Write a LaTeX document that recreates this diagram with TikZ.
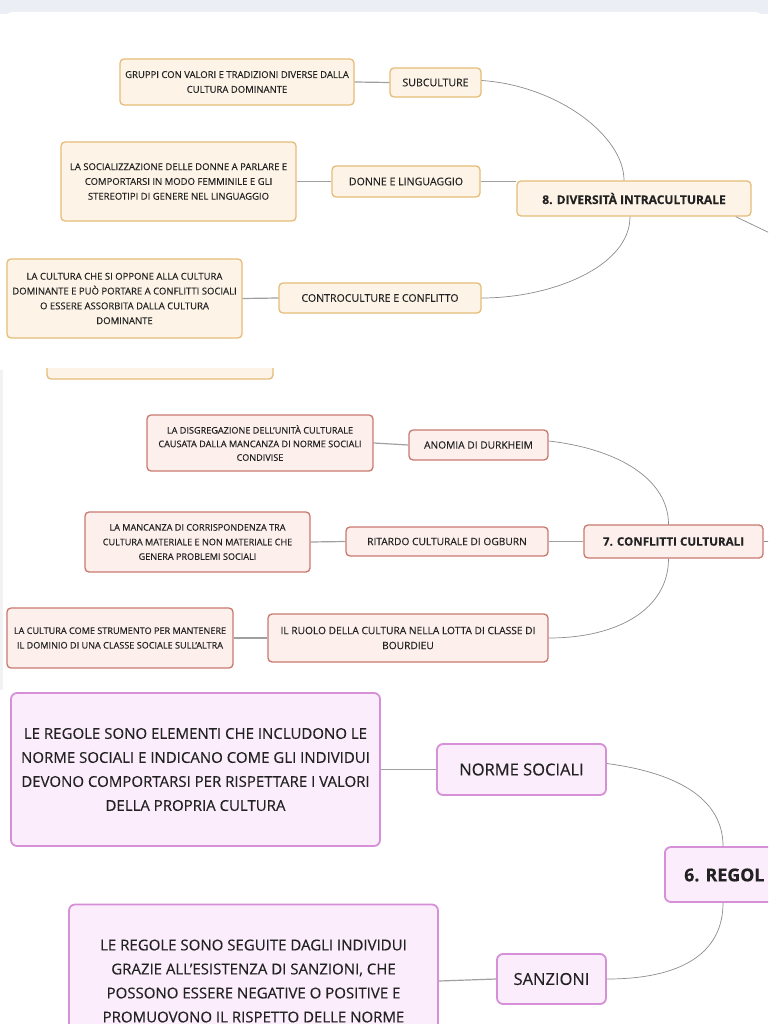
\documentclass[tikz,border=0pt]{standalone}
\usepackage{fontspec}
\setmainfont{Open Sans}[FakeBold=0.25]
\definecolor{tanF}{HTML}{FDF4E7}
\definecolor{tanD}{HTML}{E6BC78}
\definecolor{redF}{HTML}{FCEFEC}
\definecolor{redD}{HTML}{C97A6F}
\definecolor{purF}{HTML}{FBEDFB}
\definecolor{purD}{HTML}{D690D8}
\definecolor{txt}{HTML}{222222}
\definecolor{lineC}{HTML}{A0A0A0}
\definecolor{curveC}{HTML}{8C8C8C}
\definecolor{bandC}{HTML}{ECEEF5}
\tikzset{
  box/.style={rounded corners=4pt, align=center, inner sep=0pt, text=txt, line width=1.3pt},
  tanbox/.style={box, draw=tanD, fill=tanF},
  redbox/.style={box, draw=redD, fill=redF},
  purbox/.style={box, draw=purD, fill=purF, rounded corners=6pt, line width=1.8pt},
  dtan/.style={font=\fontsize{9.5}{14.8}\selectfont},
  dred/.style={font=\fontsize{9.1}{14.6}\selectfont},
  dredb/.style={font=\fontsize{9.1}{13.6}\selectfont},
  subtan/.style={font=\fontsize{10.6}{15}\selectfont},
  subred/.style={font=\fontsize{10.2}{15}\selectfont},
  maintan/.style={font=\bfseries\fontsize{12}{14}\selectfont},
  mainred/.style={font=\bfseries\fontsize{11.6}{14}\selectfont},
  dbig/.style={font=\fontsize{15}{24}\selectfont},
  subbig/.style={font=\fontsize{16.5}{18}\selectfont},
  mainbig/.style={font=\bfseries\fontsize{17.8}{20}\selectfont},
  link/.style={draw=lineC, line width=1.2pt},
  curve/.style={draw=curveC, line width=0.7pt},
}
\begin{document}
\begin{tikzpicture}[x=1pt,y=-1pt]
\useasboundingbox (0,0) rectangle (768,1024);
\clip (0,0) rectangle (768,1024);
% background
\fill[white] (0,0) rectangle (768,1024);
\fill[bandC] (0,0) rectangle (768,14);
\fill[white, rounded corners=14pt] (0,12) rectangle (768,420);
\fill[gray!10] (0,370) rectangle (3,690);
% cut-off box from the next screenshot
\begin{scope}
  \clip (0,368) rectangle (768,400);
  \draw[tanbox] (47,330) rectangle (273,379);
\end{scope}

% ---------- Section 8 ----------
\node[tanbox, dtan, minimum width=234pt, minimum height=46pt] (b1) at (237,82)
  {GRUPPI CON VALORI E TRADIZIONI DIVERSE DALLA\\CULTURA DOMINANTE};
\node[tanbox, subtan, minimum width=91pt, minimum height=29pt] (subc) at (435.5,82.5) {SUBCULTURE};
\node[tanbox, dtan, minimum width=235pt, minimum height=79pt] (b2) at (178.5,181.5)
  {LA SOCIALIZZAZIONE DELLE DONNE A PARLARE E\\COMPORTARSI IN MODO FEMMINILE E GLI\\STEREOTIPI DI GENERE NEL LINGUAGGIO};
\node[tanbox, subtan, minimum width=148pt, minimum height=31pt] (donne) at (406,181.5) {DONNE E LINGUAGGIO};
\node[tanbox, maintan, minimum width=234pt, minimum height=35pt] (m8) at (634,198.5) {8. DIVERSITÀ INTRACULTURALE};
\node[tanbox, dtan, minimum width=235pt, minimum height=79pt] (b3) at (124.5,298.5)
  {LA CULTURA CHE SI OPPONE ALLA CULTURA\\DOMINANTE E PUÒ PORTARE A CONFLITTI SOCIALI\\O ESSERE ASSORBITA DALLA CULTURA\\DOMINANTE};
\node[tanbox, subtan, minimum width=202pt, minimum height=30pt] (contro) at (380,298) {CONTROCULTURE E CONFLITTO};
\coordinate (off8) at (776,236);

\draw[link] (b1.east) -- (subc.west);
\draw[link] (b2.east) -- (donne.west);
\draw[link] (donne.east) -- (donne.east -| m8.west);
\draw[link] (b3.east) -- (contro.west);
\draw[curve] ([yshift=2pt]subc.east) .. controls +(75,5) and +(0,-45) .. ([xshift=-10pt]m8.north);
\draw[curve] ([xshift=-4pt]m8.south) .. controls +(0,50) and +(70,0) .. (contro.east);
\draw[curve] ([xshift=-16pt]m8.south east) -- (off8);

% ---------- Section 7 ----------
\node[redbox, dredb, minimum width=226pt, minimum height=56pt] (b4) at (260,443)
  {LA DISGREGAZIONE DELL'UNITÀ CULTURALE\\CAUSATA DALLA MANCANZA DI NORME SOCIALI\\CONDIVISE};
\node[redbox, subred, minimum width=139pt, minimum height=30pt] (anomia) at (478.5,445) {ANOMIA DI DURKHEIM};
\node[redbox, dred, minimum width=225pt, minimum height=60pt] (b5) at (197.5,542)
  {LA MANCANZA DI CORRISPONDENZA TRA\\CULTURA MATERIALE E NON MATERIALE CHE\\GENERA PROBLEMI SOCIALI};
\node[redbox, subred, minimum width=202pt, minimum height=29pt] (ritardo) at (447,541.5) {RITARDO CULTURALE DI OGBURN};
\node[redbox, mainred, minimum width=179pt, minimum height=33pt] (m7) at (673.5,541.5) {7. CONFLITTI CULTURALI};
\node[redbox, dred, minimum width=226pt, minimum height=60pt] (b6) at (120,638)
  {LA CULTURA COME STRUMENTO PER MANTENERE\\IL DOMINIO DI UNA CLASSE SOCIALE SULL'ALTRA};
\node[redbox, subred, minimum width=280pt, minimum height=48pt] (bourdieu) at (408,638)
  {IL RUOLO DELLA CULTURA NELLA LOTTA DI CLASSE DI\\BOURDIEU};
\coordinate (off7) at (772,541.5);

\draw[link] (b4.east) -- (anomia.west);
\draw[link] (b5.east) -- (ritardo.west);
\draw[link] (ritardo.east) -- (m7.west);
\draw[link] (b6.east) -- (bourdieu.west);
\draw[curve] (m7.east) -- (off7);
\draw[curve] ([yshift=4pt]anomia.east) .. controls +(70,8) and +(0,-45) .. ([xshift=-5pt]m7.north);
\draw[curve] ([xshift=-5pt]m7.south) .. controls +(0,50) and +(70,0) .. (bourdieu.east);

% ---------- Section 6 ----------
\node[purbox, dbig, minimum width=369pt, minimum height=153pt] (b7) at (195.5,769.5)
  {LE REGOLE SONO ELEMENTI CHE INCLUDONO LE\\NORME SOCIALI E INDICANO COME GLI INDIVIDUI\\DEVONO COMPORTARSI PER RISPETTARE I VALORI\\DELLA PROPRIA CULTURA};
\node[purbox, subbig, minimum width=169pt, minimum height=51pt] (norme) at (521.5,769.5) {NORME SOCIALI};
\node[purbox, anchor=west, minimum width=200pt, minimum height=55pt] (m6) at (664,874.5) {};
\node[mainbig, text=txt, anchor=west, inner sep=0pt] (m6t) at (684,875) {6. REGOL};
\node[purbox, subbig, minimum width=109pt, minimum height=50pt] (sanz) at (551.5,979) {SANZIONI};
\node[purbox, dbig, minimum width=369pt, minimum height=153pt] (b8) at (253.5,981)
  {LE REGOLE SONO SEGUITE DAGLI INDIVIDUI\\GRAZIE ALL'ESISTENZA DI SANZIONI, CHE\\POSSONO ESSERE NEGATIVE O POSITIVE E\\PROMUOVONO IL RISPETTO DELLE NORME};

\draw[link] (b7.east) -- (norme.west);
\draw[link] (b8.east) -- (sanz.west);
\draw[curve] ([yshift=6pt]norme.east) .. controls +(75,10) and +(0,-45) .. ([xshift=59pt]m6.north west);
\draw[curve] ([xshift=59pt]m6.south west) .. controls +(0,50) and +(75,0) .. (sanz.east);
\end{tikzpicture}
\end{document}
